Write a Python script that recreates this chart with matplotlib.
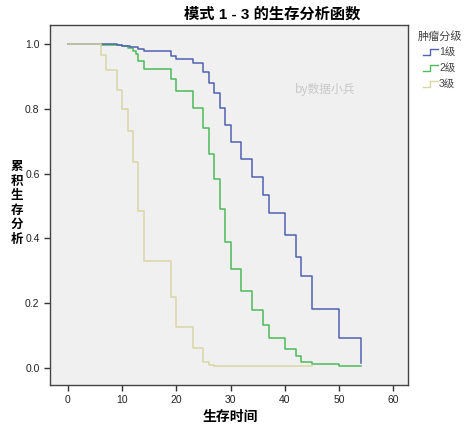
import matplotlib
matplotlib.use('Agg')
import matplotlib.pyplot as plt
from matplotlib.lines import Line2D

plt.rcParams['font.family'] = ['Liberation Sans', 'Noto Sans CJK SC', 'DejaVu Sans']

# Kaplan-Meier style cumulative survival
grade_names = ['1级', '2级', '3级']

t_g1 = [0, 6, 9, 10, 11.5, 13, 14, 19, 20, 23, 25, 26, 27, 28, 29, 30, 32, 34,
        36, 37, 40, 42, 43, 45, 50, 54]
s_g1 = [1.0, 0.999, 0.997, 0.995, 0.991, 0.986, 0.977, 0.964, 0.955, 0.940,
        0.913, 0.881, 0.848, 0.803, 0.750, 0.697, 0.644, 0.590, 0.535, 0.478,
        0.410, 0.344, 0.284, 0.181, 0.092, 0.015]

t_g2 = [0, 6, 8, 10, 11, 12, 12.5, 13, 14, 19, 20, 23, 25, 26, 27, 28, 29, 30,
        32, 34, 36, 37, 40, 42, 43, 45, 50, 54]
s_g2 = [1.0, 0.998, 0.997, 0.994, 0.987, 0.979, 0.969, 0.948, 0.922, 0.892,
        0.855, 0.803, 0.740, 0.659, 0.582, 0.490, 0.390, 0.306, 0.238, 0.179,
        0.133, 0.094, 0.058, 0.038, 0.019, 0.011, 0.006, 0.006]

t_g3 = [0, 6, 7, 9, 10, 11, 12, 13, 14, 19, 20, 23, 25, 26, 27, 45]
s_g3 = [1.0, 0.966, 0.920, 0.858, 0.800, 0.732, 0.637, 0.486, 0.330, 0.218,
        0.128, 0.061, 0.019, 0.009, 0.005, 0.005]

x_ticks = [0, 10, 20, 30, 40, 50, 60]
y_ticks = [0.0, 0.2, 0.4, 0.6, 0.8, 1.0]
y_label = '累积生存分析'

c1, c2, c3 = '#4F63AE', '#4DBB5B', '#D9D6A6'

W, H = 474, 433
fig = plt.figure(figsize=(W / 100, H / 100), dpi=100)
fig.patch.set_facecolor('white')
ax = fig.add_axes([50 / W, 1 - 385 / H, 358 / W, 360 / H])
ax.set_facecolor('#F0F0F0')

ax.step(t_g2, s_g2, where='post', color=c2, lw=1.1)
ax.step(t_g1, s_g1, where='post', color=c1, lw=1.1)
ax.step(t_g3, s_g3, where='post', color=c3, lw=1.1)

ax.set_xlim(-3.32, 62.73)
ax.set_ylim(-0.0525, 1.0586)
ax.set_xticks(x_ticks)
ax.set_yticks(y_ticks)
ax.set_yticklabels(['%.1f' % v for v in y_ticks])
ax.tick_params(direction='out', length=4, width=1, colors='#333333',
               labelsize=7.5, labelcolor='#222222')
ax.tick_params(top=False, right=False)
for sp in ax.spines.values():
    sp.set_color('#444444')
    sp.set_linewidth(1.0)

ax.text(47.4, 0.86, 'by数据小兵', color='#C8C8C8', ha='center', va='center',
        fontsize=8.5, family=['Noto Sans CJK SC', 'DejaVu Sans'])

fig.text(272 / W, 1 - 14 / H, '模式 1 - 3 的生存分析函数', ha='center', va='center',
         fontsize=11, fontweight='bold')
fig.text(230 / W, 1 - 417 / H, '生存时间', ha='center', va='center',
         fontsize=10, fontweight='bold')
# vertical label, one character under the other
fig.text(17 / W, 1 - 203 / H, '\n'.join(y_label), ha='center', va='center',
         fontsize=9, fontweight='bold', linespacing=1.15,
         family=['Noto Sans CJK SC', 'DejaVu Sans'])

# legend drawn by hand, with the little step glyph
fig.text(440 / W, 1 - 36 / H, '肿瘤分级', ha='center', va='center',
         fontsize=8, color='#444444')
for i, (name, c) in enumerate(zip(grade_names, [c1, c2, c3])):
    yc = 52 + 16 * i
    xs = [423, 430, 430, 438]
    ys = [yc + 3, yc + 3, yc - 3, yc - 3]
    fig.add_artist(Line2D([x / W for x in xs], [1 - y / H for y in ys],
                          color=c, lw=1.0, transform=fig.transFigure))
    fig.text(439 / W, 1 - yc / H, name, ha='left', va='center',
             fontsize=7.5, color='#444444')

fig.savefig('out.png', dpi=100)
